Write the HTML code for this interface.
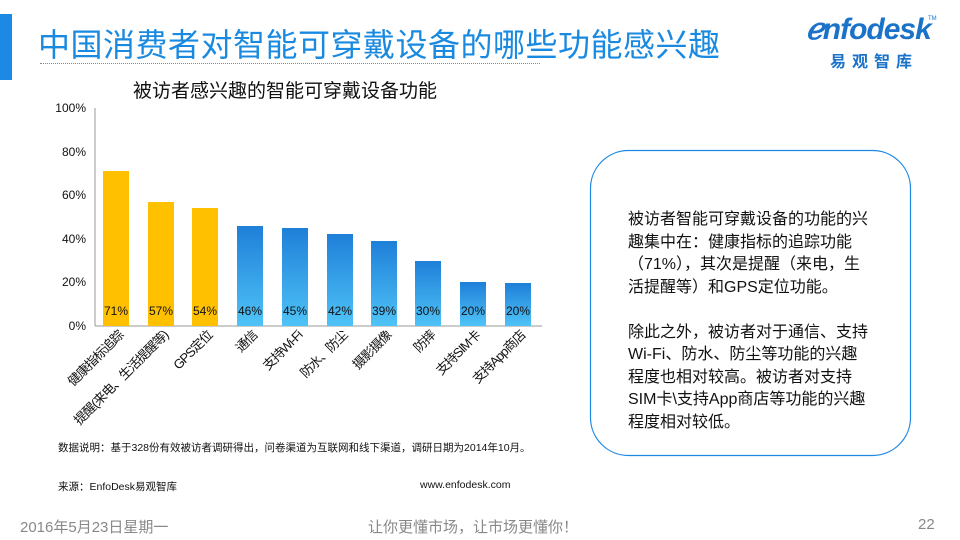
<!DOCTYPE html>
<html><head><meta charset="utf-8"><style>
body{margin:0;width:960px;height:540px;background:#fff;position:relative;overflow:hidden;font-family:"Liberation Sans","Noto Sans CJK SC",sans-serif}
.a{position:absolute}
</style></head><body>
<div class="a" style="left:0;top:14px;width:12px;height:66px;background:#1e88e5"></div>
<div class="a" style="left:38px;top:20px;font-size:32px;color:#1a8ae0;white-space:nowrap;letter-spacing:0.5px">中国消费者对智能可穿戴设备的哪些功能感兴趣</div>
<div class="a" style="left:40px;top:63px;width:500px;border-top:1px dotted #888"></div>
<div class="a" style="left:806px;top:12px;font-size:30px;font-style:italic;font-weight:bold;color:#1a73c8;letter-spacing:-1px">ℯnfodesk</div>
<div class="a" style="left:928px;top:16px;font-size:6px;color:#1a73c8">TM</div>
<div class="a" style="left:830px;top:48px;font-size:16px;font-weight:bold;color:#1a73c8;letter-spacing:6px">易观智库</div>
<div class="a" style="left:133px;top:76px;font-size:19px;color:#111">被访者感兴趣的智能可穿戴设备功能</div>
<svg class="a" style="left:0;top:0" width="960" height="540">
<defs>
<linearGradient id="b" x1="0" y1="0" x2="0" y2="1"><stop offset="0" stop-color="#1e7fd8"/><stop offset="1" stop-color="#4fc3f7"/></linearGradient>
</defs>
<g font-size="12" fill="#111" text-anchor="end" font-family="Liberation Sans">
<text x="86" y="112">100%</text><text x="86" y="156">80%</text><text x="86" y="199">60%</text><text x="86" y="243">40%</text><text x="86" y="286">20%</text><text x="86" y="330">0%</text>
</g>
<line x1="95" y1="108" x2="95" y2="326" stroke="#999"/>
<line x1="95" y1="326" x2="542" y2="326" stroke="#999"/>
<g>
<rect x="103" y="171" width="26" height="155" fill="#ffc000"/>
<rect x="148" y="202" width="26" height="124" fill="#ffc000"/>
<rect x="192" y="208" width="26" height="118" fill="#ffc000"/>
<rect x="237" y="226" width="26" height="100" fill="url(#b)"/>
<rect x="282" y="228" width="26" height="98" fill="url(#b)"/>
<rect x="327" y="234" width="26" height="92" fill="url(#b)"/>
<rect x="371" y="241" width="26" height="85" fill="url(#b)"/>
<rect x="415" y="261" width="26" height="65" fill="url(#b)"/>
<rect x="460" y="282" width="26" height="44" fill="url(#b)"/>
<rect x="505" y="283" width="26" height="43" fill="url(#b)"/>
</g>
<g font-size="12" fill="#111" text-anchor="middle" font-family="Liberation Sans">
<text x="116" y="315">71%</text><text x="161" y="315">57%</text><text x="205" y="315">54%</text><text x="250" y="315">46%</text><text x="295" y="315">45%</text><text x="340" y="315">42%</text><text x="384" y="315">39%</text><text x="428" y="315">30%</text><text x="473" y="315">20%</text><text x="518" y="315">20%</text>
</g>
<g font-size="13" fill="#111" text-anchor="end" font-family="Liberation Sans,Noto Sans CJK SC,sans-serif" letter-spacing="-1">
<text transform="translate(124,336) rotate(-45)">健康指标追踪</text>
<text transform="translate(169,336) rotate(-45)">提醒(来电、生活提醒等)</text>
<text transform="translate(213,336) rotate(-45)">GPS定位</text>
<text transform="translate(258,336) rotate(-45)">通信</text>
<text transform="translate(303,336) rotate(-45)">支持Wi-Fi</text>
<text transform="translate(348,336) rotate(-45)">防水、防尘</text>
<text transform="translate(392,336) rotate(-45)">摄影摄像</text>
<text transform="translate(436,336) rotate(-45)">防摔</text>
<text transform="translate(481,336) rotate(-45)">支持SIM卡</text>
<text transform="translate(526,336) rotate(-45)">支持App商店</text>
</g>
<rect x="590.5" y="150.5" width="320" height="305" rx="38" fill="none" stroke="#1e88e5" stroke-width="1.2"/>
</svg>
<div class="a" style="left:58px;top:440px;font-size:10.5px;color:#111;white-space:nowrap">数据说明：基于328份有效被访者调研得出，问卷渠道为互联网和线下渠道，调研日期为2014年10月。</div>
<div class="a" style="left:58px;top:479px;font-size:10.5px;color:#111">来源：EnfoDesk易观智库</div>
<div class="a" style="left:420px;top:479px;font-size:10.5px;color:#111">www.enfodesk.com</div>
<div class="a" style="left:628px;top:209px;font-size:16px;line-height:22.5px;color:#111;white-space:nowrap">被访者智能可穿戴设备的功能的兴<br>趣集中在：健康指标的追踪功能<br>（71%），其次是提醒（来电，生<br>活提醒等）和GPS定位功能。<br><br>除此之外，被访者对于通信、支持<br>Wi-Fi、防水、防尘等功能的兴趣<br>程度也相对较高。被访者对支持<br>SIM卡\支持App商店等功能的兴趣<br>程度相对较低。</div>
<div class="a" style="left:20px;top:516px;font-size:15px;color:#888">2016年5月23日星期一</div>
<div class="a" style="left:368px;top:516px;font-size:15px;color:#888">让你更懂市场，让市场更懂你！</div>
<div class="a" style="left:918px;top:516px;font-size:15px;color:#888">22</div>
</body></html>
